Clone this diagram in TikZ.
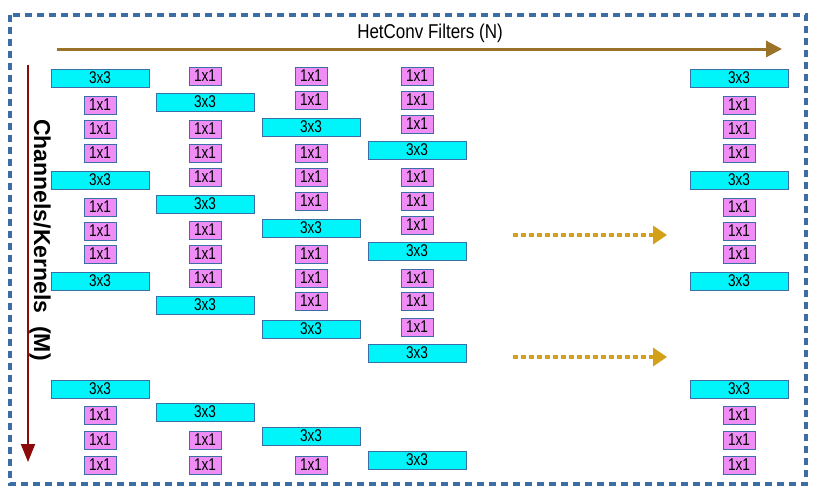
\documentclass[tikz,border=0pt]{standalone}
\usepackage{fontspec}
\setmainfont{Liberation Sans}
\usetikzlibrary{arrows.meta}
\definecolor{cy}{HTML}{00F5FA}
\definecolor{pk}{HTML}{F08CF5}
\definecolor{bd}{HTML}{3A6EA5}
\definecolor{brn}{HTML}{9A7328}
\definecolor{gold}{HTML}{D4A017}
\definecolor{dred}{HTML}{8B0A0A}
\begin{document}
\begin{tikzpicture}[x=1pt,y=-1pt,
  big/.style={draw=bd,line width=1pt,fill=cy,minimum width=98pt,minimum height=18pt,inner sep=0pt,font=\fontsize{17}{17}\selectfont,text depth=0pt},
  small/.style={draw=bd,line width=1pt,fill=pk,minimum width=32pt,minimum height=18pt,inner sep=0pt,font=\fontsize{17}{17}\selectfont},
  dotarr/.style={gold,line width=3.5pt,dash pattern=on 5pt off 3pt,-{Triangle[length=14pt,width=18pt]}}]
\useasboundingbox (0,0) rectangle (814,498);
\draw[bd,line width=3.5pt,dash pattern=on 7pt off 5pt] (10,15) rectangle (806,484);
\coordinate (ts) at (57,49); \coordinate (te) at (782,49);
\draw[brn,line width=3pt,-{Triangle[length=16pt,width=16pt]}] (ts) -- (te);
\node (title) at (430,33) {\fontsize{20}{20}\selectfont\scalebox{0.85}[1]{HetConv Filters (N)}};
\coordinate (ls) at (28,65); \coordinate (le) at (28,462);
\draw[dred,line width=2pt,-{Triangle[length=18pt,width=14pt]}] (ls) -- (le);
\node[rotate=-90] (side) at (40,240) {\fontsize{23}{23}\selectfont\bfseries Channels/Kernels\ \ (M)};
\foreach \x/\p in {100/a,739/e}{
  \foreach \y/\t [count=\i] in {78/b,105/s,129/s,153/s,180/b,207/s,231/s,254/s,281/b,389/b,415/s,440/s,465/s}{
    \if\t b\node[big] (\p\i) at (\x,\y) {\scalebox{0.8}[1]{3x3}};\else\node[small] (\p\i) at (\x,\y) {\scalebox{0.8}[1]{1x1}};\fi
  }}
\foreach \y/\t [count=\i] in {76/s,102/b,129/s,153/s,177/s,204/b,230/s,254/s,278/s,305/b,412/b,440/s,465/s}{
  \if\t b\node[big] (b\i) at (205,\y) {\scalebox{0.8}[1]{3x3}};\else\node[small] (b\i) at (205,\y) {\scalebox{0.8}[1]{1x1}};\fi}
\foreach \y/\t [count=\i] in {76/s,100/s,127/b,153/s,177/s,201/s,228/b,254/s,278/s,301/s,329/b,436/b,465/s}{
  \if\t b\node[big] (c\i) at (311,\y) {\scalebox{0.8}[1]{3x3}};\else\node[small] (c\i) at (311,\y) {\scalebox{0.8}[1]{1x1}};\fi}
\foreach \y/\t [count=\i] in {76/s,100/s,124/s,150/b,177/s,201/s,225/s,251/b,278/s,301/s,327/s,353/b,460/b}{
  \if\t b\node[big] (d\i) at (417,\y) {\scalebox{0.8}[1]{3x3}};\else\node[small] (d\i) at (417,\y) {\scalebox{0.8}[1]{1x1}};\fi}
\coordinate (p1) at (513,235); \coordinate (q1) at (667,235);
\coordinate (p2) at (513,357); \coordinate (q2) at (667,357);
\draw[dotarr] (p1) -- (q1);
\draw[dotarr] (p2) -- (q2);
\end{tikzpicture}
\end{document}
